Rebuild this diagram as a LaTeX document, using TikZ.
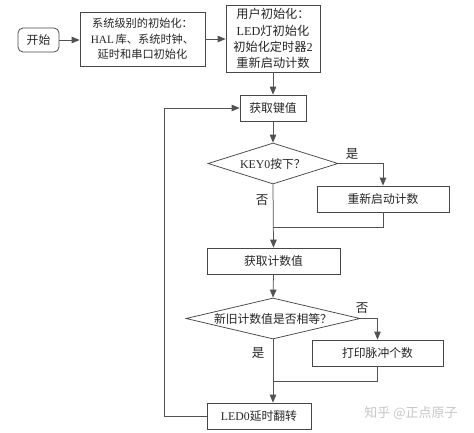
\documentclass[tikz,border=0pt]{standalone}
\usepackage{fontspec}
\setmainfont{Liberation Serif}
\newfontfamily\cjk{Noto Sans CJK SC}
\usetikzlibrary{shapes.geometric,arrows.meta}
\begin{document}
\begin{tikzpicture}[x=1pt,y=-1pt,
  every node/.style={text=black!85, font=\fontsize{11.8}{15}\selectfont\cjk},
  box/.style={draw=black!72, line width=0.75pt, inner sep=0pt, align=center},
  dia/.style={draw=black!72, line width=0.75pt, shape=diamond, inner sep=0pt},
  conn/.style={draw=black!68, line width=0.75pt},
  arr/.style={conn, -{Triangle[length=8pt,width=6.5pt]}},
  lbl/.style={font=\fontsize{12.5}{14}\selectfont\cjk}
]
\useasboundingbox (0,0) rectangle (474,432);
\fill[white] (0,0) rectangle (474,432);

\node[box, rounded corners=5pt, minimum width=41pt, minimum height=24pt] (start) at (38.5,40) {开始};
\node[box, minimum width=125pt, minimum height=54pt, font=\fontsize{11.2}{15.5}\selectfont\cjk] (init) at (142.5,39)
  {系统级别的初始化：\\{\rmfamily HAL}\,库、系统时钟、\\延时和串口初始化};
\node[box, minimum width=94pt, minimum height=67pt, font=\fontsize{12.2}{16.3}\selectfont\cjk] (user) at (273,38.5)
  {用户初始化：\\{\rmfamily LED}灯初始化\\初始化定时器{\rmfamily 2}\\重新启动计数};
\node[box, minimum width=66pt, minimum height=26pt] (getkey) at (273,108) {获取键值};
\node[dia, minimum width=130pt, minimum height=41pt, shape aspect=3.17] (d1) at (273,163.5) {{\rmfamily KEY0}按下？};
\node[box, minimum width=132pt, minimum height=26pt] (restart) at (383,199) {重新启动计数};
\node[box, minimum width=133pt, minimum height=26pt] (getcnt) at (273.5,261) {获取计数值};
\node[dia, minimum width=174pt, minimum height=41pt, shape aspect=4.24] (d2) at (273,318.5) {新旧计数值是否相等？};
\node[box, minimum width=131pt, minimum height=26pt] (print) at (377.5,353) {打印脉冲个数};
\node[box, minimum width=104pt, minimum height=26pt] (led) at (259,416) {{\rmfamily LED0}延时翻转};

\coordinate (j1) at (273,227);
\coordinate (j2) at (273,381);
\coordinate (loop) at (164,416);

\draw[arr] (start.east) -- (init.west |- start.east);
\draw[arr] (init.east) -- (user.west |- init.east);
\draw[arr] (user.south) -- (getkey.north);
\draw[arr] (getkey.south) -- (d1.north);
\draw[arr] (d1.east) -| (restart.north);
\draw[arr] (d1.south) -- (getcnt.north);
\draw[conn] (restart.south) |- (j1);
\draw[arr] (getcnt.south) -- (d2.north);
\draw[arr] (d2.east) -| (print.north);
\draw[conn] (print.south) |- (j2);
\draw[arr] (d2.south) -- (d2.south |- led.north);
\draw[arr] (led.west) -- (loop) |- (getkey.west);

\node[lbl] (yes1) at (352,154) {是};
\node[lbl] (no1) at (262,200) {否};
\node[lbl] (no2) at (362,308) {否};
\node[lbl] (yes2) at (258,353) {是};

\node[text=black!22, font=\fontsize{13}{15}\selectfont\cjk] (wm) at (411,413) {知乎 @正点原子};
\end{tikzpicture}
\end{document}
